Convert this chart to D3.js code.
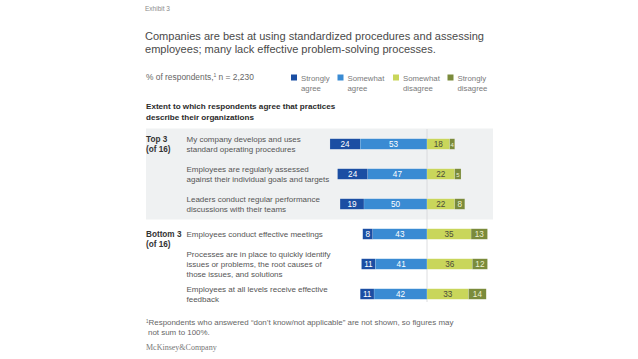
<!DOCTYPE html>
<html><head><meta charset="utf-8">
<script src="https://cdn.jsdelivr.net/npm/d3@7/dist/d3.min.js"></script>
<style>
html,body{margin:0;padding:0;background:#fff;}
svg{display:block;font-family:"Liberation Sans",Arial,sans-serif;}
</style></head>
<body><svg id="c" width="638" height="359"></svg>
<script>
const categories = [
  ["My company develops and uses", "standard operating procedures"],
  ["Employees are regularly assessed", "against their individual goals and targets"],
  ["Leaders conduct regular performance", "discussions with their teams"],
  ["Employees conduct effective meetings"],
  ["Processes are in place to quickly identify", "issues or problems, the root causes of", "those issues, and solutions"],
  ["Employees at all levels receive effective", "feedback"]
];
const groups = [
  {name: ["Top 3", "(of 16)"], start: 0},
  {name: ["Bottom 3", "(of 16)"], start: 3}
];
const stronglyAgree    = [24, 24, 19, 8, 11, 11];
const somewhatAgree    = [53, 47, 50, 43, 41, 42];
const somewhatDisagree = [18, 22, 22, 35, 36, 33];
const stronglyDisagree = [4, 5, 8, 13, 12, 14];
const seriesNames = [["Strongly", "agree"], ["Somewhat", "agree"], ["Somewhat", "disagree"], ["Strongly", "disagree"]];
const colors = ["#1b4ea3", "#3a8bd3", "#c9d65b", "#7b8b3b"];
const labelColors = ["#ffffff", "#ffffff", "#4a4a3a", "#eef0d0"];

const svg = d3.select("#c");
const x = d3.scaleLinear().domain([-100, 100]).range([301, 553]);
const y = d3.scaleBand().domain(d3.range(6)).range([129, 309]);
const barH = 10.5;

// panel for top group
svg.append("rect").attr("x", 146).attr("y", 128.5).attr("width", 347).attr("height", 91)
  .attr("fill", "#eff1f2");

// center line
svg.append("line").attr("x1", x(0)).attr("x2", x(0)).attr("y1", 129).attr("y2", 302)
  .attr("stroke", "#d4d6d8").attr("stroke-width", 0.8);

// texts
svg.append("text").attr("x", 145).attr("y", 10.5).attr("font-size", 6.5).attr("fill", "#8a8a8a").text("Exhibit 3");
const title = ["Companies are best at using standardized procedures and assessing",
               "employees; many lack effective problem-solving processes."];
svg.append("text").attr("font-size", 11.05).attr("fill", "#4a4a4a")
  .selectAll("tspan").data(title).join("tspan")
  .attr("x", 145).attr("y", (d, i) => 39.5 + i * 13.5).text(d => d);

const sub = svg.append("text").attr("x", 146).attr("y", 79.5).attr("font-size", 8.4).attr("fill", "#666");
sub.append("tspan").text("% of respondents,");
sub.append("tspan").attr("font-size", 5).attr("dy", -3).text("1");
sub.append("tspan").attr("dy", 3).text(" n = 2,230");

const legX = [291, 337.5, 393, 447.5];
seriesNames.forEach((s, i) => {
  svg.append("rect").attr("x", legX[i]).attr("y", 74.5).attr("width", 6).attr("height", 6).attr("fill", colors[i]);
  svg.append("text").attr("font-size", 7.8).attr("fill", "#7a7a7a")
    .selectAll("tspan").data(s).join("tspan")
    .attr("x", legX[i] + 10).attr("y", (d, j) => 80.5 + j * 10).text(d => d);
});

svg.append("text").attr("font-size", 8.1).attr("font-weight", "bold").attr("fill", "#2a2a2a")
  .selectAll("tspan").data(["Extent to which respondents agree that practices", "describe their organizations"]).join("tspan")
  .attr("x", 146).attr("y", (d, i) => 109 + i * 10.5).text(d => d);

// group labels
groups.forEach(g => {
  const cy = y(g.start) + y.bandwidth() / 2;
  svg.append("text").attr("font-size", 8.2).attr("font-weight", "bold").attr("fill", "#333")
    .selectAll("tspan").data(g.name).join("tspan")
    .attr("x", 146).attr("y", (d, i) => cy - (g.start === 0 ? 2.5 : -3) + i * 10).text(d => d);
});

// category labels
categories.forEach((lines, i) => {
  const cy = y(i) + y.bandwidth() / 2;
  const n = lines.length;
  svg.append("text").attr("font-size", 8.0).attr("fill", "#555")
    .selectAll("tspan").data(lines).join("tspan")
    .attr("x", 186.5).attr("y", (d, j) => cy + 3 + (j - (n - 1) / 2) * 10).text(d => d);
});

// bars
const data = d3.range(6).map(i => {
  const v = [stronglyAgree[i], somewhatAgree[i], somewhatDisagree[i], stronglyDisagree[i]];
  const segs = [
    {k: 0, a: -(v[0] + v[1]), b: -v[1], v: v[0]},
    {k: 1, a: -v[1], b: 0, v: v[1]},
    {k: 2, a: 0, b: v[2], v: v[2]},
    {k: 3, a: v[2], b: v[2] + v[3], v: v[3]}
  ];
  return {i, segs};
});
const rows = svg.selectAll("g.row").data(data).join("g").attr("class", "row")
  .attr("transform", d => `translate(0,${y(d.i) + y.bandwidth() / 2 - barH / 2})`);
rows.selectAll("rect").data(d => d.segs).join("rect")
  .attr("x", s => x(s.a)).attr("width", s => x(s.b) - x(s.a)).attr("height", barH)
  .attr("fill", s => colors[s.k]).attr("stroke", "#ffffff").attr("stroke-opacity", 0.35).attr("stroke-width", 0.4);
rows.selectAll("text").data(d => d.segs).join("text")
  .attr("x", s => (x(s.a) + x(s.b)) / 2).attr("y", barH / 2 + 3)
  .attr("text-anchor", "middle").attr("font-size", s => s.v < 6 ? 6 : 8.2)
  .attr("fill", s => labelColors[s.k]).text(s => s.v);

// footnote
const fn = svg.append("text").attr("font-size", 7.95).attr("fill", "#666");
fn.append("tspan").attr("x", 146).attr("y", 325).attr("font-size", 4.5).attr("dy", -2.5).text("1");
fn.append("tspan").attr("dy", 2.5).text("Respondents who answered \u201cdon\u2019t know/not applicable\u201d are not shown, so figures may");
fn.append("tspan").attr("x", 148).attr("y", 334.5).text("not sum to 100%.");
svg.append("text").attr("x", 146).attr("y", 350).attr("font-size", 8)
  .attr("font-family", "'Liberation Serif','DejaVu Serif',serif").attr("fill", "#777").text("McKinsey&Company");
</script></body></html>
